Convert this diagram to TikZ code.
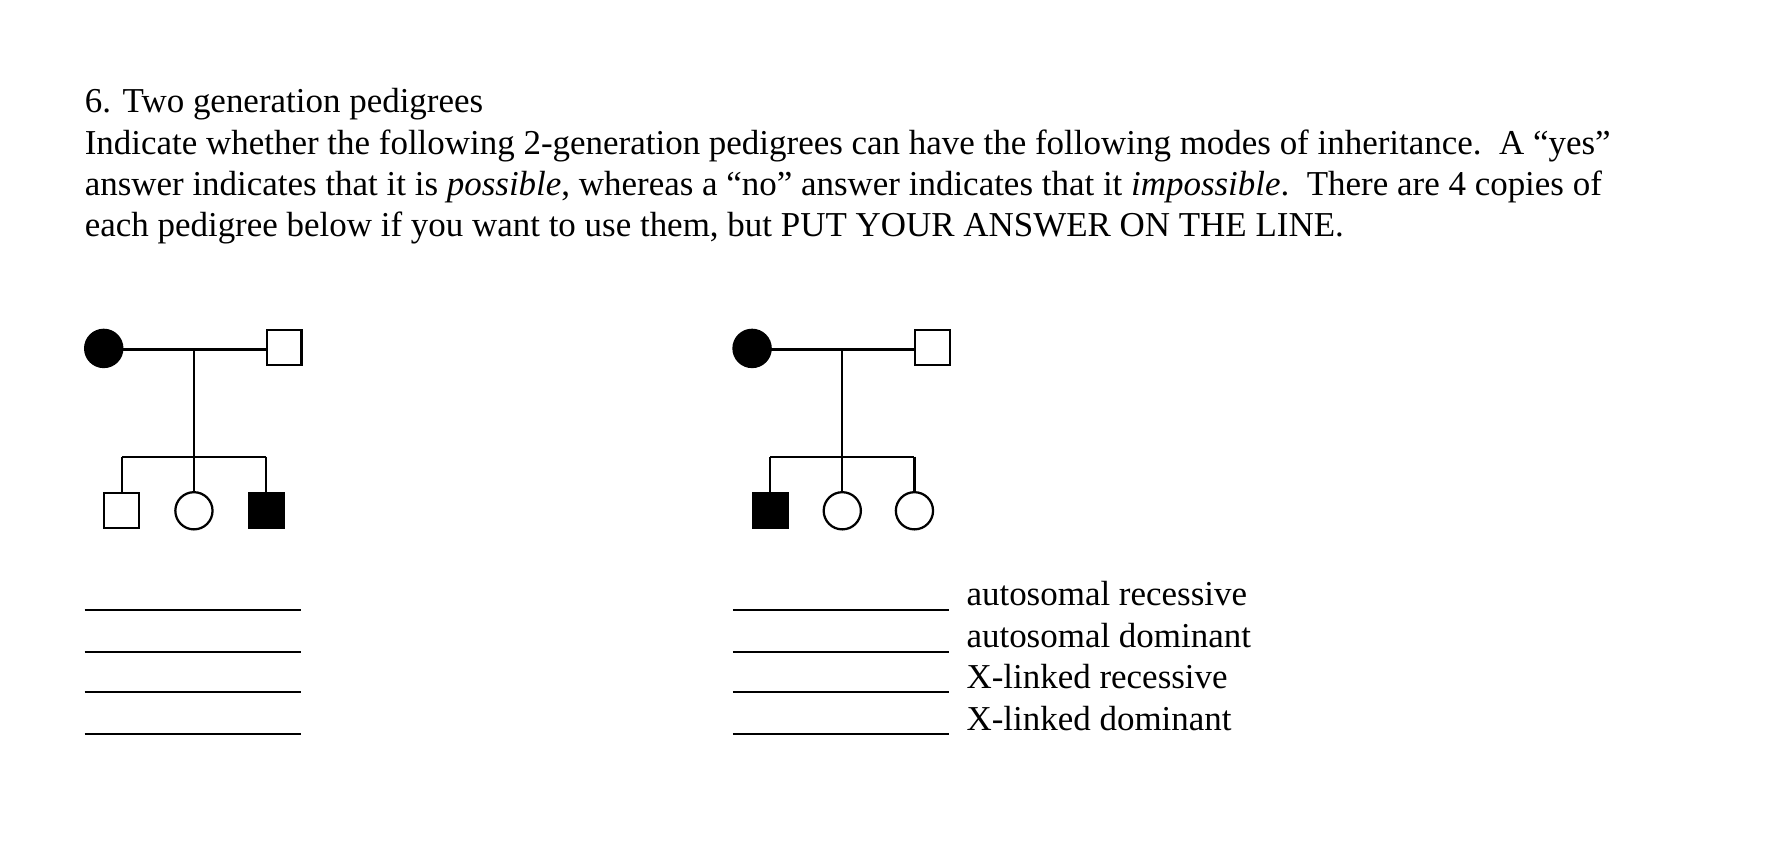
\documentclass[tikz,border=0pt]{standalone}
\usepackage{fontspec}
\setmainfont{Liberation Serif}
\begin{document}
\begin{tikzpicture}[x=1pt,y=-1pt,
  lw/.style={line width=2pt},
  fem/.style={circle,draw,line width=2pt,minimum width=31pt,minimum height=33pt,inner sep=0pt,fill=white},
  mal/.style={rectangle,draw,line width=2pt,minimum size=31pt,inner sep=0pt,fill=white},
  aff/.style={fill=black},
  txt/.style={anchor=base west,inner sep=0pt,font=\fontsize{31}{37}\selectfont}]
\useasboundingbox (0,0) rectangle (1568,751);
\node[txt] (t1) at (75,100) {6. Two generation pedigrees};
\node[txt] (t2) at (75,137) {Indicate whether the following 2-generation pedigrees can have the following modes of inheritance.\ \ A “yes”};
\node[txt] (t3) at (75,173) {answer indicates that it is \textit{possible}, whereas a “no” answer indicates that it \textit{impossible}.\ \ There are 4 copies of};
\node[txt] (t4) at (75,210) {each pedigree below if you want to use them, but PUT YOUR ANSWER ON THE LINE.};
\foreach \ox/\p in {0/a,575/b}{
  \begin{scope}[xshift=\ox]
  \coordinate (\p m) at (172,310);
  \coordinate (\p s) at (172,405);
  \draw[lw] (92,310) -- (252,310);
  \draw[lw] (\p m) -- (\p s);
  \draw[lw] (108,405) -- (236,405);
  \draw[lw] (108,405) -- (108,437);
  \draw[lw] (\p s) -- (172,437);
  \draw[lw] (236,405) -- (236,437);
  \node[fem,aff] (\p f) at (92,309) {};
  \node[mal] (\p h) at (252,308) {};
  \foreach \y/\k in {541/1,578/2,614/3,651/4}
    \draw[lw] (75,\y) -- (267,\y);
  \end{scope}}
\node[mal] (ac1) at (108,453) {};
\node[fem] (ac2) at (172,453) {};
\node[mal,aff] (ac3) at (236,453) {};
\node[mal,aff] (bc1) at (683,453) {};
\node[fem] (bc2) at (747,453) {};
\node[fem] (bc3) at (811,453) {};
\node[txt] (l1) at (857,537) {autosomal recessive};
\node[txt] (l2) at (857,574) {autosomal dominant};
\node[txt] (l3) at (857,611) {X-linked recessive};
\node[txt] (l4) at (857,648) {X-linked dominant};
\end{tikzpicture}
\end{document}
